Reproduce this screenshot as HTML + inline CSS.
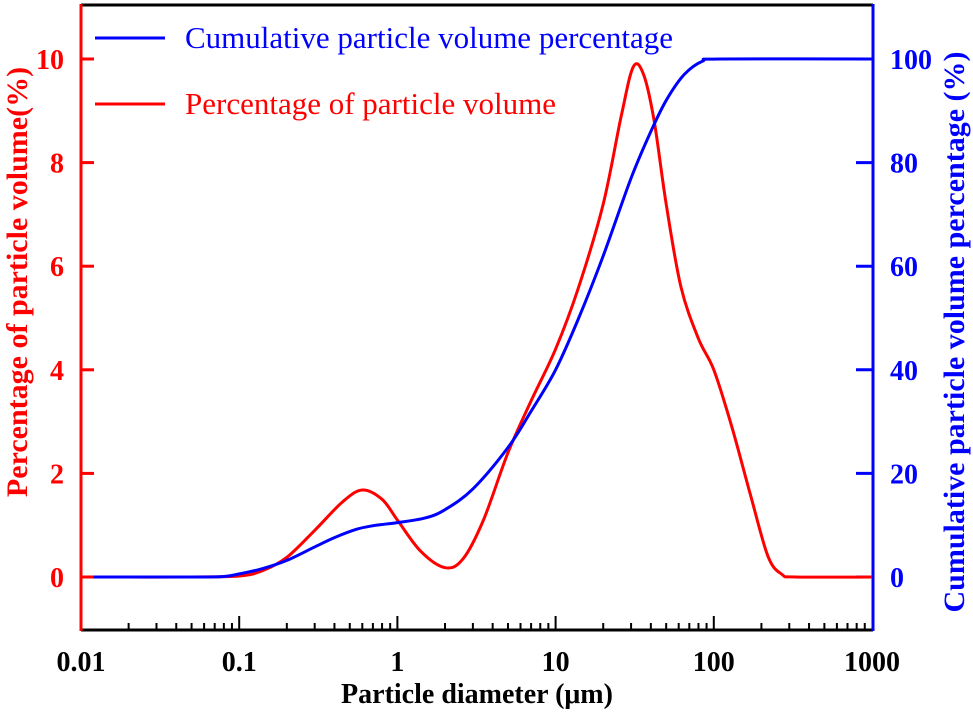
<!DOCTYPE html>
<html><head><meta charset="utf-8"><style>
body{margin:0;background:#fff;}
svg text{font-family:"Liberation Serif",serif;}
</style></head><body>
<svg id="c" width="973" height="714" xmlns="http://www.w3.org/2000/svg"></svg>
<script>
const redDiameters=[0.012,0.05,0.1,0.14,0.2,0.3,0.45,0.6,0.8,1,1.4,2,2.6,3.5,5,7,10,14,20,26,31,36,42,50,62,80,100,130,170,220,270,330,1000];
const volumePct=[0,0,0.02,0.12,0.38,0.9,1.45,1.68,1.5,1.1,0.5,0.18,0.35,1.1,2.4,3.4,4.4,5.6,7.2,8.9,9.85,9.7,8.8,7.2,5.6,4.6,4.0,2.9,1.6,0.4,0.05,0,0];
const blueDiameters=[0.012,0.05,0.08,0.1,0.14,0.2,0.3,0.4,0.55,0.7,1,1.5,2,3,5,7,10,14,20,30,40,50,65,85,110,1000];
const cumulativePct=[0,0,0.1,0.6,1.6,3.2,5.8,7.6,9.2,9.9,10.5,11.4,13,17,25,32,40,50,62,77,86,92,97,99.6,100,100];
const xTicks=[0.01,0.1,1,10,100,1000];
const xTickLabels=["0.01","0.1","1","10","100","1000"];
const yLeftTicks=[0,2,4,6,8,10];
const yRightTicks=[0,20,40,60,80,100];
const L=81,R=873,T=5,B=630;
const X=v=>L+(Math.log10(v)+2)*158.2;
const YL=v=>577-v*51.8;
const YR=v=>577-v*5.18;
const svg=document.getElementById('c');
const NS='http://www.w3.org/2000/svg';
function add(tag,attrs,parent){const e=document.createElementNS(NS,tag);for(const k in attrs)e.setAttribute(k,attrs[k]);(parent||svg).appendChild(e);return e;}
function smoothPath(xs,ys){let p=[];for(let i=0;i<xs.length;i++)p.push([xs[i],ys[i]]);let d='M'+p[0][0]+','+p[0][1];for(let i=0;i<p.length-1;i++){const p0=p[Math.max(0,i-1)],p1=p[i],p2=p[i+1],p3=p[Math.min(p.length-1,i+2)];const c1=[p1[0]+(p2[0]-p0[0])/6,p1[1]+(p2[1]-p0[1])/6],c2=[p2[0]-(p3[0]-p1[0])/6,p2[1]-(p3[1]-p1[1])/6];d+=`C${c1[0]},${c1[1]} ${c2[0]},${c2[1]} ${p2[0]},${p2[1]}`;}return d;}
let e;
e=add('line',{x1:L,y1:T,x2:R,y2:T,stroke:'#000','stroke-width':3});
e=add('line',{x1:L,y1:B,x2:R,y2:B,stroke:'#000','stroke-width':3});
e=add('line',{x1:L,y1:T-1,x2:L,y2:B+1,stroke:'#f00','stroke-width':3});
e=add('line',{x1:R,y1:T-1,x2:R,y2:B+1,stroke:'#00f','stroke-width':3});
for(let dec=-2;dec<3;dec++){for(let m=1;m<10;m++){const v=m*Math.pow(10,dec);const x=X(v);const len=m===1?14:7;if(m===1&&dec===-2)continue;e=add('line',{x1:x,y1:B,x2:x,y2:B-len,stroke:'#000','stroke-width':2});}}
xTicks.forEach((v,i)=>{e=add('text',{x:X(v),y:671,'text-anchor':'middle','font-size':28,'font-weight':'bold',fill:'#000'});e.textContent=xTickLabels[i];});
yLeftTicks.forEach(v=>{const y=YL(v);e=add('line',{x1:L,y1:y,x2:L+13,y2:y,stroke:'#f00','stroke-width':3});
e=add('text',{x:64,y:y+10,'text-anchor':'end','font-size':28,'font-weight':'bold',fill:'#f00'});e.textContent=v;});
yRightTicks.forEach(v=>{const y=YR(v);e=add('line',{x1:R-17,y1:y,x2:R,y2:y,stroke:'#00f','stroke-width':3});
e=add('text',{x:890,y:y+10,'text-anchor':'start','font-size':28,'font-weight':'bold',fill:'#00f'});e.textContent=v;});
e=add('path',{d:smoothPath(redDiameters.map(X),volumePct.map(YL)),fill:'none',stroke:'#f00','stroke-width':3});
e=add('path',{d:smoothPath(blueDiameters.map(X),cumulativePct.map(YR)),fill:'none',stroke:'#00f','stroke-width':3});
e=add('line',{x1:95,y1:38,x2:165,y2:38,stroke:'#00f','stroke-width':3});
e=add('text',{x:185,y:48,'font-size':31,fill:'#00f'});e.textContent='Cumulative particle volume percentage';
e=add('line',{x1:95,y1:104,x2:165,y2:104,stroke:'#f00','stroke-width':3});
e=add('text',{x:185,y:114,'font-size':31,fill:'#f00'});e.textContent='Percentage of particle volume';
e=add('text',{x:477,y:703,'text-anchor':'middle','font-size':28,'font-weight':'bold',fill:'#000'});e.textContent='Particle diameter (μm)';
e=add('text',{x:0,y:0,'text-anchor':'middle','font-size':30,'font-weight':'bold',fill:'#f00',transform:'translate(27,282) rotate(-90)'});e.textContent='Percentage of particle volume(%)';
e=add('text',{x:0,y:0,'text-anchor':'middle','font-size':30,'font-weight':'bold',fill:'#00f',transform:'translate(964,332) rotate(-90)'});e.textContent='Cumulative particle volume percentage (%)';
</script>
</body></html>
